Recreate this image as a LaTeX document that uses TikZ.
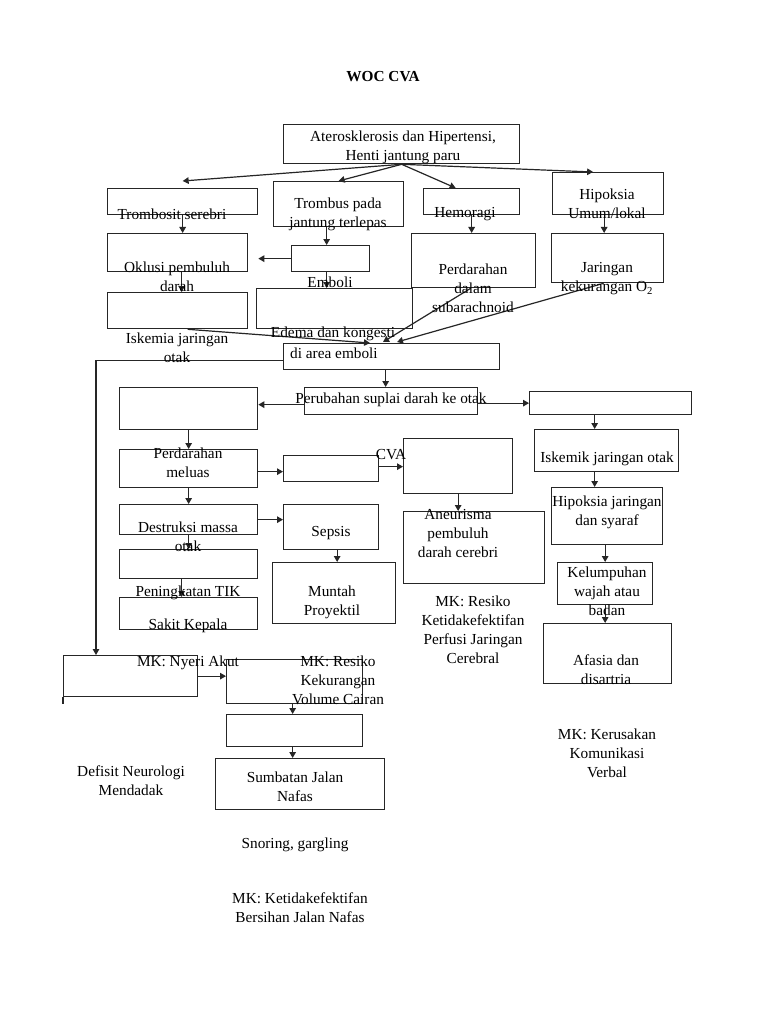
\documentclass[tikz,border=0pt]{standalone}
\usepackage{fontspec}
\setmainfont{Liberation Serif}
\usetikzlibrary{arrows.meta}
\begin{document}
\begin{tikzpicture}[x=1pt,y=-1pt,
  box/.style={draw=black!85,line width=1.3pt,inner sep=0pt,anchor=north west},
  lbl/.style={inner sep=0pt,align=center,font=\fontsize{15.3}{19}\selectfont,text=black},
  arr/.style={draw=black!85,line width=1.2pt,-{Triangle[length=6pt,width=6.5pt]}},
  ln/.style={draw=black!85,line width=1.2pt}]
\useasboundingbox[fill=white] (0,0) rectangle (768,1024);
% boxes
\newcommand{\bx}[5]{\node[box,minimum width=#4pt,minimum height=#5pt] (#1) at (#2,#3) {};}
\bx{top}{283}{124}{236}{39}
\bx{trombosit}{107}{188}{150}{26}
\bx{trombus}{273}{181}{130}{45}
\bx{hemoragi}{423}{188}{96}{26}
\bx{hipoksia}{552}{172}{111}{42}
\bx{oklusi}{107}{233}{140}{38}
\bx{emboli}{291}{245}{78}{26}
\bx{perdarahan}{411}{233}{124}{54}
\bx{jaringan}{551}{233}{112}{49}
\bx{iskemia}{107}{292}{140}{36}
\bx{edema}{256}{288}{156}{40}
\bx{areaemboli}{283}{343}{216}{26}
\bx{perubahan}{304}{387}{173}{27}
\bx{boxA}{119}{387}{138}{42}
\bx{boxB}{529}{391}{162}{23}
\bx{iskemik}{534}{429}{144}{42}
\bx{meluas}{119}{449}{138}{38}
\bx{smallmid}{283}{455}{95}{26}
\bx{cva}{403}{438}{109}{55}
\bx{hipjar}{551}{487}{111}{57}
\bx{destruksi}{119}{504}{138}{30}
\bx{sepsis}{283}{504}{95}{45}
\bx{aneurisma}{403}{511}{141}{72}
\bx{kelumpuhan}{557}{562}{95}{42}
\bx{smallleft}{119}{549}{138}{29}
\bx{muntah}{272}{562}{123}{61}
\bx{sakit}{119}{597}{138}{32}
\bx{afasia}{543}{623}{128}{60}
\bx{nyeri}{63}{655}{134}{41}
\bx{volume}{226}{659}{136}{44}
\bx{emptyb}{226}{714}{136}{32}
\bx{sumbatan}{215}{758}{169}{51}
\draw[ln] (nyeri.south west) -- ([yshift=-7pt]nyeri.south west);
% connectors
\draw[arr] (top.south) -- ([yshift=7pt]trombosit.north);
\draw[arr] (top.south) -- (trombus.north);
\draw[arr] (top.south) -- ([xshift=-16pt]hemoragi.north);
\draw[arr] (top.south) -- ([xshift=-15pt]hipoksia.north);
\draw[arr] (trombosit.south) -- (trombosit.south |- oklusi.north);
\draw[arr] ([xshift=4pt]oklusi.south) -- ([xshift=4pt]oklusi.south |- iskemia.north);
\draw[arr] ([xshift=-4pt]emboli.north |- trombus.south) -- ([xshift=-4pt]emboli.north);
\draw[arr] (emboli.west) -- ([xshift=10pt]oklusi.east |- emboli.west);
\draw[arr] ([xshift=-4pt]emboli.south) -- ([xshift=-4pt]emboli.south |- edema.north);
\draw[arr] (hemoragi.south) -- (hemoragi.south |- perdarahan.north);
\draw[arr] ([xshift=-4pt]hipoksia.south) -- ([xshift=-4pt]hipoksia.south |- jaringan.north);
\draw[arr] ([xshift=10pt]iskemia.south) -- ([xshift=87pt]areaemboli.north west);
\draw[arr] ([xshift=-3pt]perdarahan.south) -- ([xshift=100pt,yshift=1pt]areaemboli.north west);
\draw[arr] ([xshift=-4pt]jaringan.south) -- ([xshift=114pt,yshift=1pt]areaemboli.north west);
\draw[arr] ([xshift=-6pt]areaemboli.south) -- ([xshift=-6pt]areaemboli.south |- perubahan.north);
\draw[arr] ([yshift=-4pt]areaemboli.west) -| ([xshift=33pt]nyeri.north west);
\draw[arr] ([yshift=-3.5pt]perubahan.west) -- ([yshift=-3.5pt]perubahan.west -| boxA.east);
\draw[arr] (perubahan.east |- boxB.west) -- (boxB.west);
\draw[arr] (boxA.south) -- (boxA.south |- meluas.north);
\draw[arr] ([yshift=-3pt]meluas.east) -- ([yshift=-3pt]meluas.east -| smallmid.west);
\draw[arr] ([yshift=2pt]smallmid.east) -- ([yshift=2pt]smallmid.east -| cva.west);
\draw[arr] (cva.south) -- (cva.south |- aneurisma.north);
\draw[arr] (meluas.south) -- (meluas.south |- destruksi.north);
\draw[arr] (destruksi.east) -- (destruksi.east -| sepsis.west);
\draw[arr] ([xshift=6pt]sepsis.south) -- ([xshift=6pt]sepsis.south |- muntah.north);
\draw[arr] (destruksi.south) -- (destruksi.south |- smallleft.north);
\draw[arr] ([xshift=-7pt]smallleft.south) -- ([xshift=-7pt]smallleft.south |- sakit.north);
\draw[arr] ([xshift=-16pt]boxB.south) -- ([xshift=-16pt]boxB.south |- iskemik.north);
\draw[arr] ([xshift=-12pt]iskemik.south) -- ([xshift=-12pt]iskemik.south |- hipjar.north);
\draw[arr] (kelumpuhan.north |- hipjar.south) -- (kelumpuhan.north);
\draw[arr] (kelumpuhan.south) -- (kelumpuhan.south |- afasia.north);
\draw[arr] (nyeri.east) -- (nyeri.east -| volume.west);
\draw[arr] ([xshift=-2pt]volume.south) -- ([xshift=-2pt]volume.south |- emptyb.north);
\draw[arr] ([xshift=-2pt]emptyb.south) -- ([xshift=-2pt]emptyb.south |- sumbatan.north);
% labels
\node[lbl,font=\fontsize{15.3}{19}\selectfont\bfseries] (title) at (383,77) {WOC CVA};
\node[lbl] (ttop) at (403,147) {Aterosklerosis dan Hipertensi,\\Henti jantung paru};
\node[lbl] (ttrombosit) at (172,214) {Trombosit serebri};
\node[lbl] (ttrombus) at (338,214.5) {Trombus pada\\jantung terlepas};
\node[lbl] (themoragi) at (465,214) {Hemoragi};
\node[lbl] (thipoksia) at (607,204) {Hipoksia\\Umum/lokal};
\node[lbl] (toklusi) at (177,277) {Oklusi pembuluh\\darah};
\node[lbl] (temboli) at (330,282) {Emboli};
\node[lbl] (tperdarahan) at (473,288) {Perdarahan\\dalam\\subarachnoid};
\node[lbl] (tjaringan) at (607,279) {Jaringan\\kekurangan O\textsubscript{2}};
\node[lbl] (tiskemia) at (177,348) {Iskemia jaringan\\otak};
\node[lbl] (tedema) at (333,334) {Edema dan kongesti};
\node[lbl,anchor=west] (tareaemboli) at (290,353) {di area emboli};
\node[lbl] (tperubahan) at (391,400) {Perubahan suplai darah ke otak};
\node[lbl] (tiskemik) at (607,459) {Iskemik jaringan otak};
\node[lbl] (tmeluas) at (188,463) {Perdarahan\\meluas};
\node[lbl] (tcva) at (391,455) {CVA};
\node[lbl] (thipjar) at (607,512) {Hipoksia jaringan\\dan syaraf};
\node[lbl] (tdestruksi) at (188,537) {Destruksi massa\\otak};
\node[lbl] (tsepsis) at (331,533) {Sepsis};
\node[lbl] (taneurisma) at (458,533.5) {Aneurisma\\pembuluh\\darah cerebri};
\node[lbl] (tkelumpuhan) at (607,591) {Kelumpuhan\\wajah atau\\badan};
\node[lbl] (tmuntah) at (332,602.5) {Muntah\\Proyektil};
\node[lbl] (tpeningkatan) at (188,593) {Peningkatan TIK};
\node[lbl] (tsakit) at (188,626) {Sakit Kepala};
\node[lbl] (tmkresiko) at (473,629.5) {MK: Resiko\\Ketidakefektifan\\Perfusi Jaringan\\Cerebral};
\node[lbl] (tafasia) at (606,670) {Afasia dan\\disartria};
\node[lbl] (tnyeri) at (188,663) {MK: Nyeri Akut};
\node[lbl] (tvolume) at (338,680.5) {MK: Resiko\\Kekurangan\\Volume Cairan};
\node[lbl] (tsumbatan) at (295,786.5) {Sumbatan Jalan\\Nafas};
\node[lbl] (tdefisit) at (131,781) {Defisit Neurologi\\Mendadak};
\node[lbl] (tsnoring) at (295,845) {Snoring, gargling};
\node[lbl] (tmkketidak) at (300,907.5) {MK: Ketidakefektifan\\Bersihan Jalan Nafas};
\node[lbl] (tmkkerusakan) at (607,753.5) {MK: Kerusakan\\Komunikasi\\Verbal};
\end{tikzpicture}
\end{document}
